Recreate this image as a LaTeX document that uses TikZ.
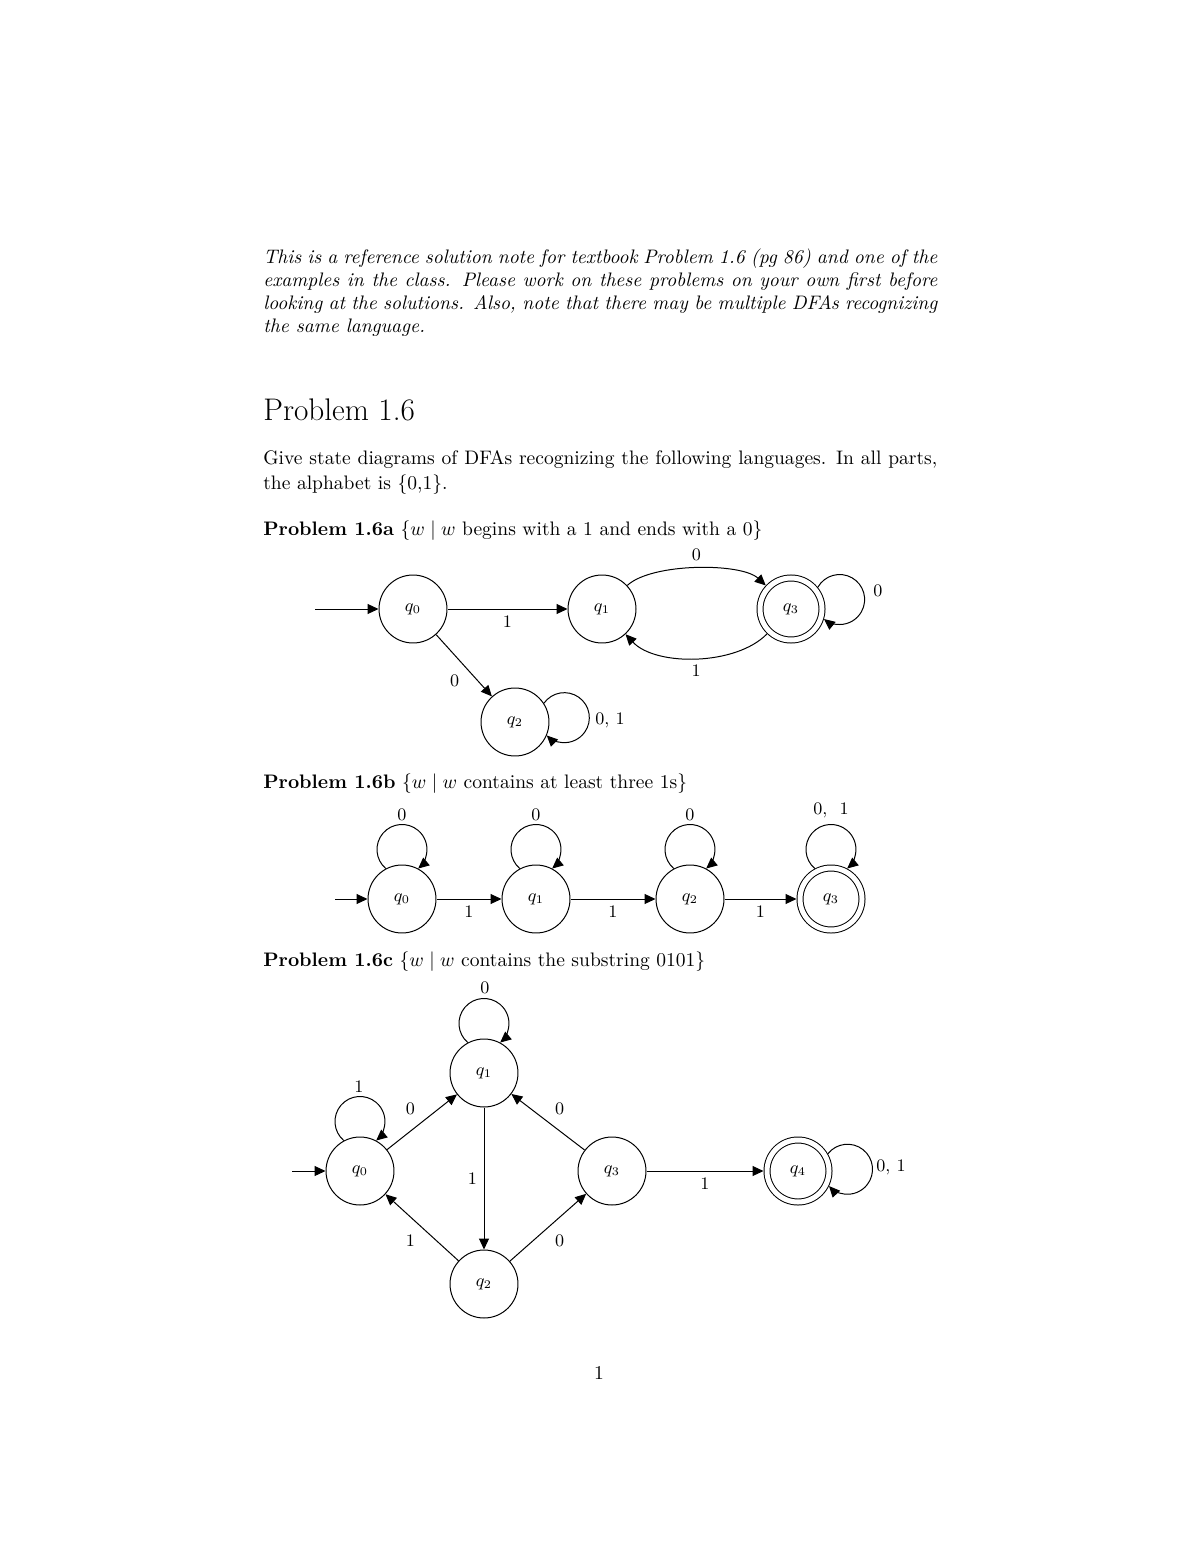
\documentclass[tikz,border=0pt]{standalone}
\usetikzlibrary{arrows.meta}
\newcommand\selfloop[2]{%
  \pgfmathsetmacro\loopA{#2+28.5}%
  \pgfmathsetmacro\loopB{#2+139.7}%
  \pgfmathsetmacro\loopC{#2-139.7}%
  \draw[edge] (#1.\loopA) arc[start angle=\loopB, end angle=\loopC, radius=25];}
\begin{document}
\begin{tikzpicture}[x=0.5119pt,y=0.5119pt,
  state/.style={circle,draw,line width=0.51pt,minimum size=34.8pt,inner sep=0pt,outer sep=0.26pt,font=\small},
  accept/.style={state,double,double distance=2.56pt,minimum size=31.74pt,outer sep=1.8pt},
  edge/.style={line width=0.51pt,-{Triangle[length=5.6pt,width=5.1pt]}},
  lbl/.style={font=\small},
  txt/.style={anchor=base west,inner sep=0pt}]
\useasboundingbox (0,0) rectangle (1200,-1553);

% text
\node[txt,font=\itshape] (t1) at (263,-264) {\makebox[345pt][s]{This is a reference solution note for textbook Problem 1.6 (pg 86) and one of the}};
\node[txt,font=\itshape] (t2) at (263,-287) {\makebox[345pt][s]{examples in the class. Please work on these problems on your own first before}};
\node[txt,font=\itshape] (t3) at (263,-310) {\makebox[345pt][s]{looking at the solutions. Also, note that there may be multiple DFAs recognizing}};
\node[txt,font=\itshape] (t4) at (263,-333) {the same language.};
\node[txt,font=\fontsize{16}{19}\selectfont] (h) at (263,-421) {Problem 1.6};
\node[txt] (g1) at (263,-465) {\makebox[345pt][s]{Give state diagrams of DFAs recognizing the following languages. In all parts,}};
\node[txt] (g2) at (263,-489) {the alphabet is $\{$0,1$\}$.};
\node[txt] (pa) at (263,-535) {\textbf{Problem 1.6a} $\{w\mid w$ begins with a 1 and ends with a 0$\}$};
\node[txt] (pb) at (263,-788) {\textbf{Problem 1.6b} $\{w\mid w$ contains at least three 1s$\}$};
\node[txt] (pc) at (263,-966) {\textbf{Problem 1.6c} $\{w\mid w$ contains the substring 0101$\}$};
\node[anchor=base,inner sep=0pt] (pg) at (599,-1379) {1};

% 1.6a
\node[state] (a0) at (413,-609) {$q_0$};
\node[state] (a1) at (602,-609) {$q_1$};
\node[accept] (a3) at (791,-609) {$q_3$};
\node[state] (a2) at (515,-722) {$q_2$};
\coordinate (as) at (315,-609);
\draw[edge] (as) -- (a0);
\draw[edge] (a0) -- node[lbl,below]{1} (a1);
\draw[edge] (a1) to[out=43,in=137,looseness=0.62] node[lbl,above]{0} (a3);
\draw[edge] (a3) to[out=-134,in=-47,looseness=0.8] node[lbl,below]{1} (a1);
\draw[edge] (a0) -- node[lbl,pos=0.75,left=6pt]{0} (a2);
\selfloop{a3}{11}
\node[lbl] (la3) at (878,-591) {0};
\selfloop{a2}{5}
\node[lbl] (la2) at (610,-720) {0, 1};

% 1.6b
\node[state] (b0) at (402,-899) {$q_0$};
\node[state] (b1) at (536,-899) {$q_1$};
\node[state] (b2) at (690,-899) {$q_2$};
\node[accept] (b3) at (831,-899) {$q_3$};
\coordinate (bs) at (335,-899);
\draw[edge] (bs) -- (b0);
\draw[edge] (b0) -- node[lbl,below]{1} (b1);
\draw[edge] (b1) -- node[lbl,below]{1} (b2);
\draw[edge] (b2) -- node[lbl,below]{1} (b3);
\selfloop{b0}{90}
\selfloop{b1}{90}
\selfloop{b2}{90}
\selfloop{b3}{90}
\node[lbl] (lb0) at (402,-815) {0};
\node[lbl] (lb1) at (536,-815) {0};
\node[lbl] (lb2) at (690,-815) {0};
\node[lbl] (lb3) at (831,-810) {0,\ \ 1};

% 1.6c
\node[state] (c0) at (360,-1171) {$q_0$};
\node[state] (c1) at (484,-1073) {$q_1$};
\node[state] (c2) at (484,-1284) {$q_2$};
\node[state] (c3) at (612,-1171) {$q_3$};
\node[accept] (c4) at (798,-1171) {$q_4$};
\coordinate (cs) at (292,-1171);
\draw[edge] (cs) -- (c0);
\draw[edge] (c0) -- node[lbl,above left]{0} (c1);
\draw[edge] (c1) -- node[lbl,left]{1} (c2);
\draw[edge] (c3) -- node[lbl,above right]{0} (c1);
\draw[edge] (c2) -- node[lbl,below left]{1} (c0);
\draw[edge] (c2) -- node[lbl,below right]{0} (c3);
\draw[edge] (c3) -- node[lbl,below]{1} (c4);
\selfloop{c0}{90}
\selfloop{c1}{90}
\selfloop{c4}{2}
\node[lbl] (lc0) at (359,-1087) {1};
\node[lbl] (lc1) at (485,-988) {0};
\node[lbl] (lc4) at (891,-1167) {0, 1};
\end{tikzpicture}
\end{document}
